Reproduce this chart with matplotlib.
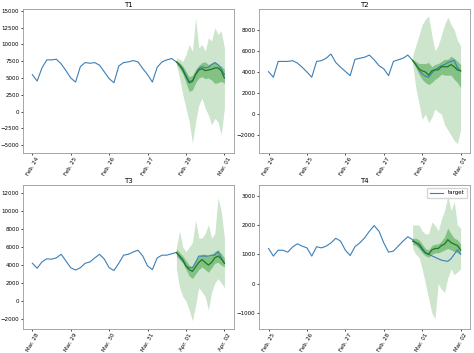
import matplotlib
matplotlib.use("Agg")
import matplotlib.pyplot as plt
import matplotlib.dates as mdates
import numpy as np
import pandas as pd

# history sampled every 3 h, forecast window sampled every 2 h
hist_hours = list(range(0, 90, 3))
fc_hours = list(range(90, 121, 2))

titles = ["T1", "T2", "T3", "T4"]
starts = ["2019-02-24", "2019-02-24", "2019-03-28", "2019-02-25"]
ylims = [(-6200, 15250), (-3700, 9950), (-3100, 12900), (-1550, 3370)]

t1_hist = [5500, 4550, 6500, 7700, 7700, 7800, 7100, 6100, 5000, 4400,
           6700, 7300, 7200, 7300, 6900, 5900, 4900, 4300, 6800, 7300,
           7400, 7600, 7400, 6400, 5500, 4400, 6600, 7400, 7700, 7900]
t1_fc_target = [7400, 7000, 6400, 5400, 4500, 4600, 5600, 6400, 6700, 6500, 6600, 7000, 7300, 7000, 6400, 5500]
t1_median = [7400, 6900, 6200, 5200, 4300, 4500, 5500, 6200, 6400, 6100, 6200, 6300, 6500, 6500, 6100, 5000]
t1_hi50 = [7600, 7300, 6800, 6000, 5200, 5400, 6300, 6900, 7300, 7400, 7000, 7200, 7400, 7000, 6800, 6300]
t1_lo50 = [7100, 6400, 5600, 4300, 3000, 3200, 4300, 5000, 5200, 4900, 5000, 4700, 4200, 4300, 4500, 4200]
t1_hi90 = [8000, 7800, 7500, 8500, 10000, 9000, 14000, 9500, 10000, 9000, 11000, 10500, 12500, 11500, 12000, 9500]
t1_lo90 = [7000, 5000, 2500, 500, -1500, -4700, -1500, 1000, 2000, 500, -500, -2000, -1000, -1500, -3500, 500]

t2_hist = [4030, 3500, 5000, 5000, 5000, 5070, 4850, 4450, 4000, 3500,
           5000, 5070, 5300, 5700, 4900, 4450, 4050, 3650, 5200, 5300,
           5400, 5600, 5150, 4600, 4300, 3650, 5000, 5150, 5300, 5600]
t2_fc_target = [5100, 4700, 4200, 3800, 3600, 3500, 3900, 4200, 4400, 4600, 4700, 4900, 5000, 5100, 4400, 4100]
t2_median = [5100, 4700, 4300, 4100, 4000, 3700, 4100, 4200, 4200, 4500, 4500, 4500, 4700, 4500, 4200, 4100]
t2_hi50 = [5200, 5000, 4800, 4800, 4800, 4900, 4500, 4700, 4800, 5000, 5200, 5200, 5500, 5300, 5000, 4700]
t2_lo50 = [5000, 4400, 3800, 3300, 3000, 2800, 3000, 3300, 3500, 3800, 3700, 3700, 3700, 3300, 3000, 2500]
t2_hi90 = [5500, 6500, 7500, 8500, 9000, 9300, 7500, 6000, 6500, 7500, 8500, 9200, 8500, 8000, 7000, 6500]
t2_lo90 = [4800, 2500, 1000, -500, 0, -800, -300, 500, 200, 0, -1000, -1500, -2000, -2500, -2800, -1500]

t3_hist = [4200, 3650, 4350, 4700, 4650, 4800, 5200, 4450, 3700, 3450,
           3700, 4200, 4350, 4800, 5200, 4650, 3700, 3400, 4200, 5100,
           5200, 5450, 5650, 5000, 3900, 3500, 4800, 5100, 5100, 5250]
t3_fc_target = [5400, 4900, 4500, 3900, 3700, 3700, 4300, 5000, 5000, 5000, 5000, 5100, 5100, 5500, 4800, 4200]
t3_median = [5400, 5000, 4600, 3900, 3500, 3300, 3800, 4300, 4600, 4300, 4000, 4300, 4800, 5000, 4700, 4200]
t3_hi50 = [5800, 5400, 5000, 4500, 4000, 3800, 4500, 5000, 5200, 5200, 5000, 5200, 5500, 5700, 5300, 4800]
t3_lo50 = [5000, 4600, 4200, 3500, 2800, 2500, 3000, 3500, 3800, 3500, 3200, 3700, 4200, 4300, 4000, 3800]
t3_hi90 = [6000, 7800, 6000, 5500, 6000, 6500, 9000, 7000, 7000, 7500, 8500, 7000, 7500, 11500, 10000, 7000]
t3_lo90 = [3500, 1500, 500, 0, -1000, -2200, -500, 1500, 1000, 500, -1000, 1000, 2000, 2500, 2000, 1500]

t4_hist = [1200, 940, 1140, 1140, 1075, 1250, 1360, 1280, 1220, 940,
           1260, 1220, 1280, 1390, 1550, 1450, 1140, 960, 1260, 1390,
           1560, 1790, 1980, 1790, 1390, 1075, 1110, 1280, 1450, 1600]
t4_fc_target = [1500, 1400, 1300, 1150, 1050, 1000, 950, 900, 850, 800, 780, 760, 850, 1000, 1150, 1000]
t4_median = [1450, 1400, 1350, 1200, 1050, 1000, 1150, 1200, 1200, 1300, 1350, 1500, 1400, 1350, 1300, 1150]
t4_hi50 = [1550, 1550, 1500, 1350, 1200, 1150, 1300, 1350, 1350, 1450, 1600, 1900, 1700, 1550, 1500, 1350]
t4_lo50 = [1350, 1300, 1200, 1050, 950, 900, 1000, 1050, 1050, 1100, 1150, 1200, 1150, 1100, 1050, 1000]
t4_hi90 = [2000, 2000, 2000, 1800, 1700, 1700, 2100, 2000, 1800, 2200, 2500, 3000, 2500, 2800, 2000, 1900]
t4_lo90 = [1200, 1000, 900, 500, 0, -500, -1000, -1200, 0, -200, -300, 200, 500, 300, 400, 500]

series = [
    (t1_hist, t1_fc_target, t1_median, t1_hi50, t1_lo50, t1_hi90, t1_lo90),
    (t2_hist, t2_fc_target, t2_median, t2_hi50, t2_lo50, t2_hi90, t2_lo90),
    (t3_hist, t3_fc_target, t3_median, t3_hi50, t3_lo50, t3_hi90, t3_lo90),
    (t4_hist, t4_fc_target, t4_median, t4_hi50, t4_lo50, t4_hi90, t4_lo90),
]

fig, axes = plt.subplots(2, 2, figsize=(4.74, 3.53), dpi=100)
fig.subplots_adjust(left=0.048, right=0.992, top=0.974, bottom=0.068,
                    wspace=0.118, hspace=0.22)

for i, ax in enumerate(axes.flat):
    hist, fc_target, med, hi50, lo50, hi90, lo90 = series[i]
    t0 = pd.Timestamp(starts[i])
    th = [t0 + pd.Timedelta(hours=h) for h in hist_hours]
    tf = [t0 + pd.Timedelta(hours=h) for h in fc_hours]

    ax.plot(th + tf, hist + fc_target, color="#3a7fb8", lw=0.8, label="target")
    ax.fill_between(tf, lo90, hi90, color="g", alpha=0.2, lw=0)
    ax.fill_between(tf, lo50, hi50, color="g", alpha=0.35, lw=0)
    ax.plot(tf, med, color="#1e7a1e", lw=0.9)

    ax.set_ylim(*ylims[i])
    ax.set_title(titles[i], fontsize=5, pad=1.5)
    ax.xaxis.set_major_locator(mdates.DayLocator())
    ax.xaxis.set_major_formatter(mdates.DateFormatter("%b. %d"))
    ax.tick_params(labelsize=4, length=1.5, width=0.5, pad=1)
    plt.setp(ax.get_xticklabels(), rotation=60, ha="center", va="top")
    for sp in ax.spines.values():
        sp.set_color("0.6")
        sp.set_linewidth(0.6)
    if i == 3:
        ax.legend(loc="upper right", fontsize=4, handlelength=2.5,
                  borderpad=0.5, framealpha=0.8)

fig.savefig("out.png", dpi=100)
